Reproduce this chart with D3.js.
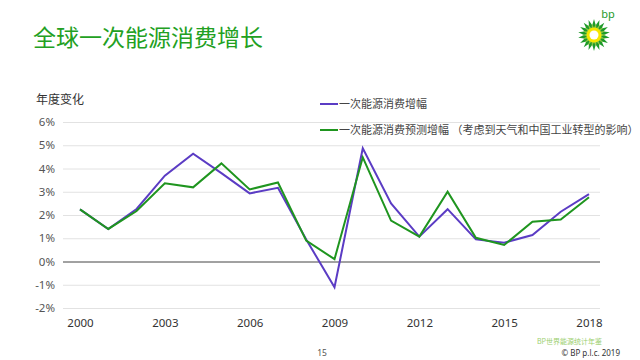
<!DOCTYPE html>
<html><head><meta charset="utf-8">
<script src="https://cdnjs.cloudflare.com/ajax/libs/d3/7.8.5/d3.min.js"></script>
<style>body{margin:0;background:#fff}svg{display:block}</style>
</head><body>
<svg id="c" width="640" height="360"></svg>
<script>
const years = [2000,2001,2002,2003,2004,2005,2006,2007,2008,2009,2010,2011,2012,2013,2014,2015,2016,2017,2018];
const actual = [2.24,1.40,2.26,3.69,4.64,3.80,2.93,3.17,0.95,-1.11,4.87,2.50,1.07,2.25,0.95,0.81,1.14,2.14,2.90];
const adjusted = [2.24,1.40,2.17,3.36,3.19,4.22,3.10,3.40,0.90,0.10,4.48,1.76,1.07,3.00,1.02,0.71,1.71,1.81,2.76];
const yTicks = [-2,-1,0,1,2,3,4,5,6];
const xTicks = [2000,2003,2006,2009,2012,2015,2018];
const seriesNames = ["一次能源消费增幅","一次能源消费预测增幅 （考虑到天气和中国工业转型的影响）"];
const colors = ["#5b3cc4","#1f951f"];

const svg = d3.select("#c");
const cjk = "'Noto Sans CJK SC','Noto Sans',sans-serif";
const num = "'Noto Sans','Open Sans',sans-serif";

const x = d3.scaleLinear().domain([2000,2018]).range([80,589]);
const y = d3.scaleLinear().domain([-2,6]).range([308,122]);

// title
svg.append("text").attr("x",33).attr("y",46).attr("font-family",cjk).attr("font-size",23)
  .attr("fill","#22a022").text("全球一次能源消费增长");

// bp logo
const lg = svg.append("g").attr("transform","translate(594,35)");
const nr = 18;
const star = [];
for (let i=0;i<nr*2;i++){const a=i*Math.PI/nr; const r=i%2?10:16; star.push([r*Math.sin(a), -r*Math.cos(a)]);}
lg.append("polygon").attr("points",star.map(p=>p.join(",")).join(" ")).attr("fill","#1e9a2a");
const star2=[];
for (let i=0;i<nr*2;i++){const a=(i+1)*Math.PI/nr; const r=i%2?7:12; star2.push([r*Math.sin(a), -r*Math.cos(a)]);}
lg.append("polygon").attr("points",star2.map(p=>p.join(",")).join(" ")).attr("fill","#8cc63f");
lg.append("circle").attr("r",7.5).attr("fill","#f5e600");
lg.append("circle").attr("r",4.5).attr("fill","#ffffff");
svg.append("text").attr("x",608).attr("y",18).attr("text-anchor","middle").attr("font-family",num)
  .attr("font-size",11).attr("fill","#1e9a2a").text("bp");

// y axis label
svg.append("text").attr("x",36).attr("y",104).attr("font-family",cjk).attr("font-size",12)
  .attr("fill","#333").text("年度变化");

// gridlines and y ticks
const yAxis = d3.axisLeft(y).tickValues(yTicks).tickSize(-537).tickFormat(d=>d+"%");
const ga = svg.append("g").attr("transform","translate(63,0)").call(yAxis);
ga.select(".domain").remove();
ga.selectAll(".tick line").attr("stroke",d=>d===0?"#444":"#e2e2e2").attr("stroke-width",1);
ga.selectAll(".tick text").attr("x",-8).attr("font-family",num).attr("font-size",11.5).attr("fill","#555");

// x axis labels
const xAxis = d3.axisBottom(x).tickValues(xTicks).tickSize(0).tickFormat(d3.format("d"));
const gx = svg.append("g").attr("transform","translate(0,316)").call(xAxis);
gx.select(".domain").remove();
gx.selectAll(".tick text").attr("font-family",num).attr("font-size",11.5).attr("fill","#333");

// lines
const line = d3.line().x((d,i)=>x(years[i])).y(d=>y(d));
[actual, adjusted].forEach((s,k)=>{
  svg.append("path").datum(s).attr("d",line).attr("fill","none").attr("stroke",colors[k])
    .attr("stroke-width",2).attr("stroke-linejoin","miter");
});

// legend
const legY = [104,130];
seriesNames.forEach((n,k)=>{
  svg.append("line").attr("x1",320).attr("x2",338).attr("y1",legY[k]).attr("y2",legY[k])
    .attr("stroke",colors[k]).attr("stroke-width",2);
  svg.append("text").attr("x",339).attr("y",legY[k]+4).attr("font-family",cjk).attr("font-size",11)
    .attr("fill","#444").text(n);
});

// footer
svg.append("text").attr("x",602).attr("y",344).attr("text-anchor","end").attr("font-family",cjk)
  .attr("font-size",7).attr("fill","#9ccf70").text("BP世界能源统计年鉴");
svg.append("text").attr("x",322).attr("y",356).attr("text-anchor","middle").attr("font-family",num)
  .attr("font-size",8.5).attr("fill","#555").text("15");
svg.append("text").attr("x",620).attr("y",356).attr("text-anchor","end").attr("font-family",num)
  .attr("font-size",8).attr("fill","#333").text("© BP p.l.c. 2019");
</script>
</body></html>
